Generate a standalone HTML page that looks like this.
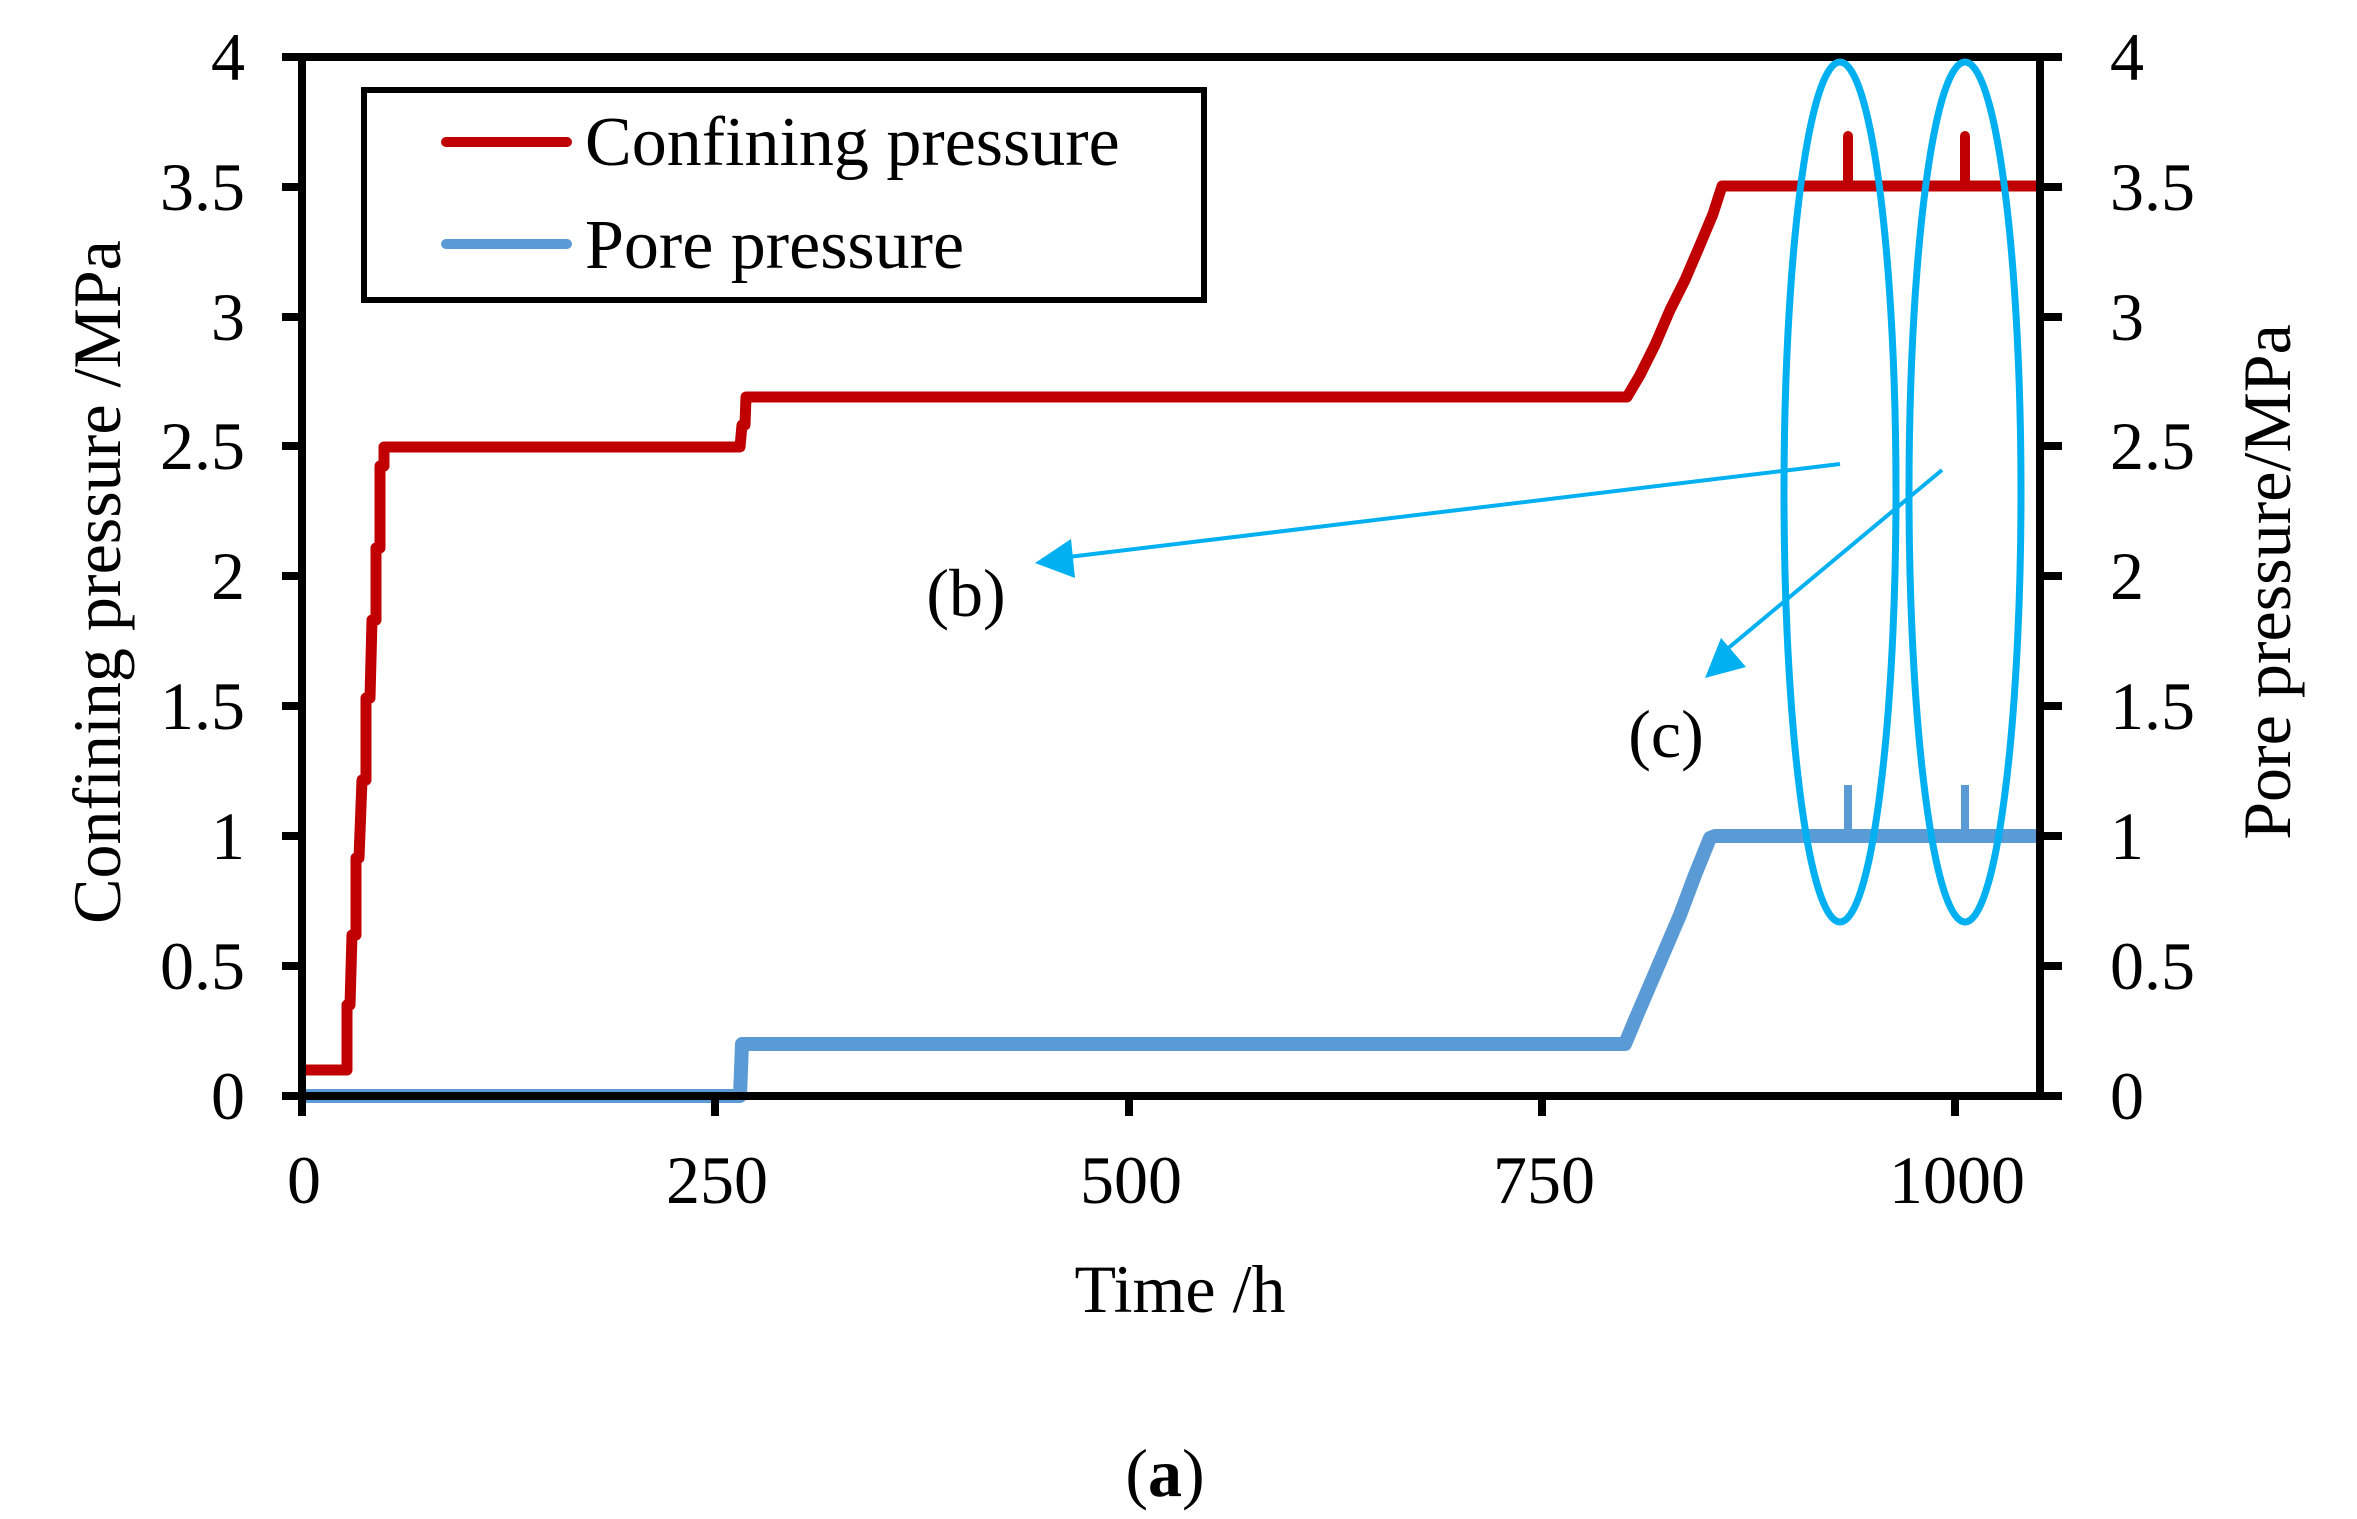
<!DOCTYPE html>
<html><head><meta charset="utf-8"><style>html,body{margin:0;padding:0;background:#fff}svg{display:block}</style></head>
<body>
<svg width="2357" height="1519" viewBox="0 0 2357 1519" xmlns="http://www.w3.org/2000/svg" font-family="Liberation Serif, serif">
<rect width="2357" height="1519" fill="#fff"/>
<polyline fill="none" stroke="#5B9BD5" stroke-width="14" stroke-linejoin="round"
points="302,1096 740,1096 742,1044 745,1044 745,1044 1625,1044 1635,1020 1650,985 1665,950 1680,915 1695,875 1710,838 1715,836 2040,836"/>
<polyline fill="none" stroke="#5B9BD5" stroke-width="8" points="1848,836 1848,785"/>
<polyline fill="none" stroke="#5B9BD5" stroke-width="8" points="1965,836 1965,785"/>
<polyline fill="none" stroke="#C00000" stroke-width="11" stroke-linejoin="round"
points="302,1070 347,1070 347,1005 350,1005 352,935 356,935 356,858 359,858 362,780 366,780 366,698 370,698 372,620 376,620 376,548 380,548 380,466 384,466 384,447 388,447 390,447 740,447 742,425 745,425 746,397 1627,397 1640,375 1655,345 1670,310 1685,280 1700,245 1713,214 1722,186 2040,186"/>
<polyline fill="none" stroke="#C00000" stroke-width="10" stroke-linecap="round" points="1848,186 1848,136"/>
<polyline fill="none" stroke="#C00000" stroke-width="10" stroke-linecap="round" points="1965,186 1965,136"/>
<g stroke="#000" stroke-width="8" fill="none">
<rect x="302" y="57" width="1738" height="1039"/>
<path d="M282,57H302M282,187H302M282,317H302M282,446H302M282,576H302M282,706H302M282,836H302M282,966H302M282,1096H302"/>
<path d="M2040,57H2062M2040,187H2062M2040,317H2062M2040,446H2062M2040,576H2062M2040,706H2062M2040,836H2062M2040,966H2062M2040,1096H2062"/>
<path d="M302,1096V1116M715,1096V1116M1129,1096V1116M1542,1096V1116M1955,1096V1116"/>
</g>
<g stroke="#00B0F0" fill="none" stroke-width="7">
<ellipse cx="1840" cy="492" rx="56" ry="430"/>
<ellipse cx="1965" cy="492" rx="56" ry="430"/>
</g>
<g stroke="#00B0F0" stroke-width="4">
<line x1="1840" y1="464" x2="1060" y2="558"/>
<line x1="1942" y1="470" x2="1720" y2="655"/>
</g>
<polygon fill="#00B0F0" points="1035,563 1071,539 1075,578"/>
<polygon fill="#00B0F0" points="1705,678 1721,638 1746,667"/>
<rect x="364" y="90" width="840" height="210" fill="#fff" stroke="#000" stroke-width="6"/>
<line x1="446" y1="142" x2="567" y2="142" stroke="#C00000" stroke-width="10" stroke-linecap="round"/>
<line x1="446" y1="244" x2="567" y2="244" stroke="#5B9BD5" stroke-width="10" stroke-linecap="round"/>
<g font-size="70" fill="#000">
<text x="585" y="165">Confining pressure</text>
<text x="585" y="268">Pore pressure</text>
</g>
<g font-size="68" fill="#000" text-anchor="end">
<text x="245" y="80">4</text><text x="245" y="210">3.5</text><text x="245" y="340">3</text><text x="245" y="469">2.5</text><text x="245" y="599">2</text><text x="245" y="729">1.5</text><text x="245" y="859">1</text><text x="245" y="989">0.5</text><text x="245" y="1119">0</text>
</g>
<g font-size="68" fill="#000" text-anchor="start">
<text x="2110" y="80">4</text><text x="2110" y="210">3.5</text><text x="2110" y="340">3</text><text x="2110" y="469">2.5</text><text x="2110" y="599">2</text><text x="2110" y="729">1.5</text><text x="2110" y="859">1</text><text x="2110" y="989">0.5</text><text x="2110" y="1119">0</text>
</g>
<g font-size="68" fill="#000" text-anchor="middle">
<text x="304" y="1203">0</text><text x="717" y="1203">250</text><text x="1131" y="1203">500</text><text x="1544" y="1203">750</text><text x="1957" y="1203">1000</text>
<text x="1180" y="1312">Time  /h</text>
<text x="966" y="616">(b)</text>
<text x="1666" y="757">(c)</text>
<text x="1165" y="1496">(<tspan font-weight="bold">a</tspan>)</text>
<text transform="translate(120,582) rotate(-90)">Confining  pressure /MPa</text>
<text transform="translate(2290,582) rotate(-90)">Pore pressure/MPa</text>
</g>
</svg>
</body></html>
